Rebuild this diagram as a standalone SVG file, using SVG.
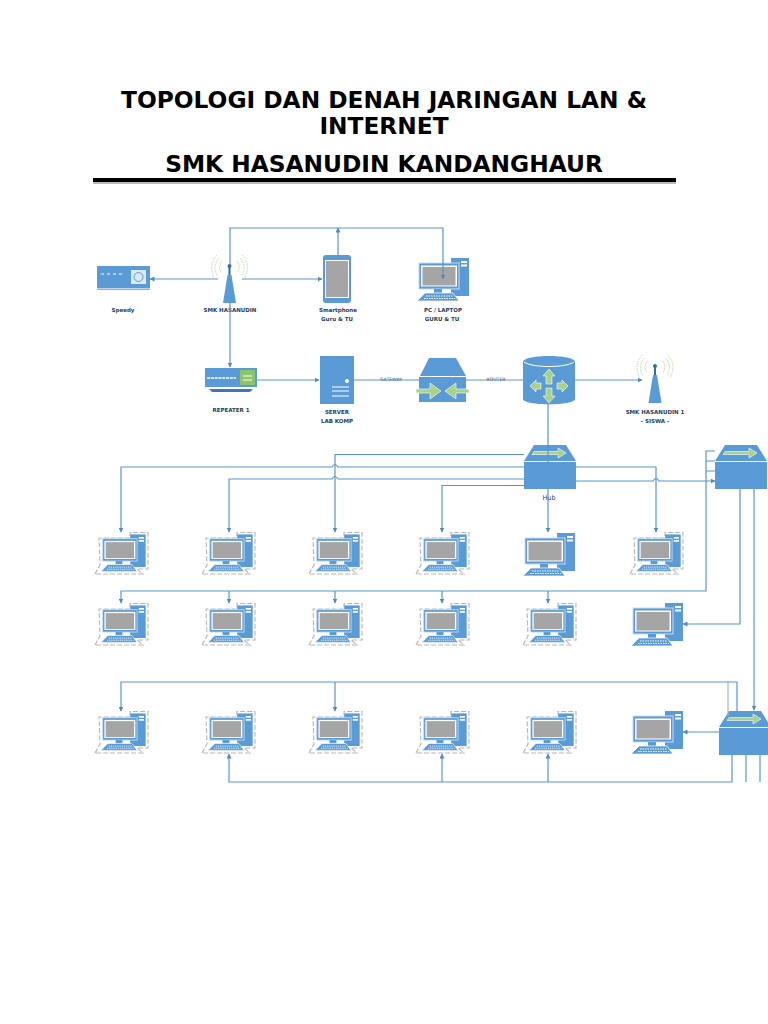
<svg xmlns="http://www.w3.org/2000/svg" width="768" height="1024" viewBox="0 0 768 1024">
<style>
text{font-family:"DejaVu Sans",sans-serif}
.t{font-size:23.3px;font-weight:bold;fill:#000;text-anchor:middle}
.l{font-size:5.5px;fill:#27405c;text-anchor:middle;font-weight:bold}
.s{font-size:4.6px;fill:#27405c;text-anchor:middle}
.c{fill:none;stroke:#5b94cd;stroke-width:1.2}
.b{fill:#5b9bd5}
.w{fill:#fff}
.g{fill:#a5a5a5}
</style>
<defs>
<marker id="a" markerWidth="5" markerHeight="5" refX="4.500" refY="2.500" orient="auto" markerUnits="userSpaceOnUse"><path d="M0 0L5 2.500L0 5Z" fill="#4f8ac4"/></marker>
<g id="pc">
<rect class="b" x="35" y="0" width="18" height="38"/>
<rect class="w" x="45" y="3" width="6" height="2"/><rect class="w" x="45" y="6.500" width="6" height="2"/>
<rect class="b" x="3" y="5" width="40" height="26" stroke="#c7dcf0" stroke-width="1"/>
<rect class="w" x="5" y="7.500" width="36" height="21"/>
<rect class="g" x="6.500" y="9" width="33" height="18.500"/>
<rect class="b" x="18" y="31" width="8" height="4"/>
<path class="b" d="M9 35H37L43 43H1Z" stroke="#fff" stroke-width=".7"/>
<path d="M10 38H37M8 40.500H39" stroke="#fff" stroke-width="1" stroke-dasharray="1.500 1"/>
</g>
<path id="dash" d="M0 42L5 33L4 6H35V.5H53V37H42L48 42Z" fill="#fff" stroke="#b5b5b5" stroke-width="1.100" stroke-dasharray="5 2"/>
<g id="dpc"><use href="#dash"/><use href="#pc" transform="translate(5.100 2.400) scale(.86)"/></g>
<g id="hub">
<path class="b" d="M0 16L10 0H42L52 16Z"/>
<rect class="b" y="17" width="52" height="27"/>
<path d="M10 6.500H34V3L42 8L34 13V9.500H8Z" fill="#a9d18e" stroke="#fff" stroke-width=".6"/>
</g>
<g id="ant">
<path class="b" d="M0 38L4.500 10H8.500L13 38Z"/>
<circle cx="6.500" cy="1" r="2" fill="#2f6da8"/>
<rect x="5.500" y="2" width="2" height="8" fill="#2f6da8"/>
<g fill="none" stroke="#a9d18e" stroke-width=".8" stroke-dasharray="1.500 1">
<path d="M-2 7Q-5 1-1-4M-6 10Q-11 1-4-7M-9 12Q-15-1-6-10M15 7Q18 1 14-4M19 10Q24 1 17-7M22 12Q28-1 19-10"/>
</g>
</g>
</defs>

<text class="t" x="384" y="108">TOPOLOGI DAN DENAH JARINGAN LAN &amp;</text>
<text class="t" x="384" y="134">INTERNET</text>
<text class="t" x="384" y="172">SMK HASANUDIN KANDANGHAUR</text>
<rect x="93" y="178" width="583" height="4" fill="#000"/>
<rect x="93" y="182.500" width="583" height="1" fill="#777"/>

<g id="speedy">
<rect class="b" x="97" y="266" width="53" height="22"/>
<rect x="97" y="288.500" width="53" height="1.500" fill="#7fb0df"/>
<rect x="131" y="270" width="15" height="14" fill="#dbe8f5"/>
<circle cx="138.500" cy="277" r="4.500" fill="none" stroke="#5b9bd5"/>
<path d="M101 274H125" stroke="#fff" stroke-width="1.200" stroke-dasharray="3 3"/>
<text class="l" x="123" y="312">Speedy</text>
</g>
<g id="smk-hasanudin">
<use href="#ant" x="223" y="265"/>
<text class="l" x="230" y="312">SMK HASANUDIN</text>
</g>
<g id="smartphone">
<rect class="b" x="323" y="255" width="28" height="48" rx="3"/>
<rect x="325" y="260" width="24" height="38" fill="#fff"/>
<rect class="g" x="326" y="261" width="22" height="36"/>
<text class="l" x="338" y="312">Smartphone</text>
<text class="l" x="337" y="321">Guru &amp; TU</text>
</g>
<g id="pc-laptop">
<use href="#pc" x="416" y="258"/>
<text class="l" x="443" y="312">PC / LAPTOP</text>
<text class="l" x="442" y="321">GURU &amp; TU</text>
</g>
<g id="repeater">
<rect class="b" x="205" y="368" width="52" height="19"/>
<path d="M209 389H253L250 392H212Z" fill="#3f78b5"/>
<rect x="240" y="370" width="15" height="15" fill="#8fc46f"/>
<path d="M243 376H252M243 380H252" stroke="#fff"/>
<path d="M207 378H236" stroke="#fff" stroke-width="1.500" stroke-dasharray="3 .8"/>
<text class="l" x="231" y="412">REPEATER 1</text>
</g>
<g id="server">
<rect class="b" x="320" y="356" width="34" height="48"/>
<circle cx="347" cy="381" r="2" fill="#fff"/>
<path d="M332 387H349M332 391H349M332 396H349" stroke="#fff" stroke-width="1"/>
<text class="l" x="337" y="414">SERVER</text>
<text class="l" x="337" y="423">LAB KOMP</text>
</g>
<g id="gateway">
<path class="b" d="M420 376L429 358H456L466 376Z"/>
<rect class="b" x="419" y="377" width="47" height="25"/>
<path d="M416 389H430V383L441 391L430 399V393H416ZM469 389H456V383L445 391L456 399V393H469Z" fill="#a9d18e" stroke="#fff" stroke-width=".6"/>
<text class="s" x="391" y="380.500">GATEWAY</text>
</g>
<g id="router">
<path class="b" d="M523 362C523 354 575 354 575 362V399C575 406 523 406 523 399Z"/>
<path d="M524 362C532 368 566 368 574 362" fill="none" stroke="#fff"/>
<path d="M546 384V376H543L549 369L555 376H552V384ZM546 388V396H543L549 403L555 396H552V388ZM541 383H536V380L530 386L536 392V389H541ZM557 383H562V380L568 386L562 392V389H557Z" fill="#a9d18e" stroke="#fff" stroke-width=".6"/>
<text class="s" x="496" y="380.500">ROUTER</text>
</g>
<g id="smk-hasanudin-1">
<use href="#ant" x="648.500" y="365"/>
<text class="l" x="655" y="414">SMK HASANUDIN 1</text>
<text class="l" x="655" y="423">- SISWA -</text>
</g>
<g id="hub-1">
<use href="#hub" x="524" y="445"/>
<text class="l" x="549" y="500" style="font-weight:normal;font-size:6.500px">Hub</text>
</g>
<g id="switch-2"><use href="#hub" x="715" y="445"/></g>
<g id="switch-3"><use href="#hub" x="719" y="711"/></g>

<g id="pcs-1">
<use href="#dpc" x="95" y="532"/><use href="#dpc" x="202" y="532"/><use href="#dpc" x="309" y="532"/><use href="#dpc" x="416" y="532"/><use href="#pc" x="522" y="533"/><use href="#dpc" x="630" y="532"/>
</g>
<g id="pcs-2">
<use href="#dpc" x="95" y="603"/><use href="#dpc" x="202" y="603"/><use href="#dpc" x="309" y="603"/><use href="#dpc" x="416" y="603"/><use href="#dpc" x="523" y="603"/><use href="#pc" x="630" y="603"/>
</g>
<g id="pcs-3">
<use href="#dpc" x="95" y="711"/><use href="#dpc" x="202" y="711"/><use href="#dpc" x="309" y="711"/><use href="#dpc" x="416" y="711"/><use href="#dpc" x="523" y="711"/><use href="#pc" x="630" y="711"/>
</g>

<g id="connectors" class="c">
<path d="M218 279H150" marker-end="url(#a)"/>
<path d="M242 279H322" marker-end="url(#a)"/>
<path d="M230 265V228H443V279" marker-end="url(#a)"/>
<path d="M338 255V228" marker-end="url(#a)"/>
<path d="M230 300V367" marker-end="url(#a)"/>
<path d="M257 380H319" marker-end="url(#a)"/>
<path d="M354 380H419M466 380H523"/>
<path d="M575 380H642" marker-end="url(#a)"/>
<path d="M548 404V466"/>
<path d="M548 489V532" marker-end="url(#a)"/>
<path d="M524 454.500H335V532" marker-end="url(#a)"/>
<path d="M524 467H338Q335 462 332 467H121V532" marker-end="url(#a)"/>
<path d="M524 479H338Q335 474 332 479H229V532" marker-end="url(#a)"/>
<path d="M524 485.500H442V532" marker-end="url(#a)"/>
<path d="M575 467H656V532" marker-end="url(#a)"/>
<path d="M575 481H653Q656 476 659 481H715" marker-end="url(#a)"/>
<path d="M715 451H706V591H121V603" marker-end="url(#a)"/>
<path d="M229 591V603" marker-end="url(#a)"/>
<path d="M335 591V603" marker-end="url(#a)"/>
<path d="M442 591V603" marker-end="url(#a)"/>
<path d="M548 591V603" marker-end="url(#a)"/>
<path d="M706 461H715M706 471H715"/>
<path d="M740 489V624H683" marker-end="url(#a)"/>
<path d="M754 489V710" marker-end="url(#a)"/>
<path d="M737 711V682H121V711" marker-end="url(#a)"/>
<path d="M728 716V682" stroke="#a9b4bf"/>
<path d="M335 682V711" marker-end="url(#a)"/>
<path d="M719 732H683" marker-end="url(#a)"/>
<path d="M732 755V782H229V754" marker-end="url(#a)"/>
<path d="M746 755V782M760 755V782"/>
<path d="M442 782V754" marker-end="url(#a)"/>
<path d="M548 782V754" marker-end="url(#a)"/>
</g>
</svg>
